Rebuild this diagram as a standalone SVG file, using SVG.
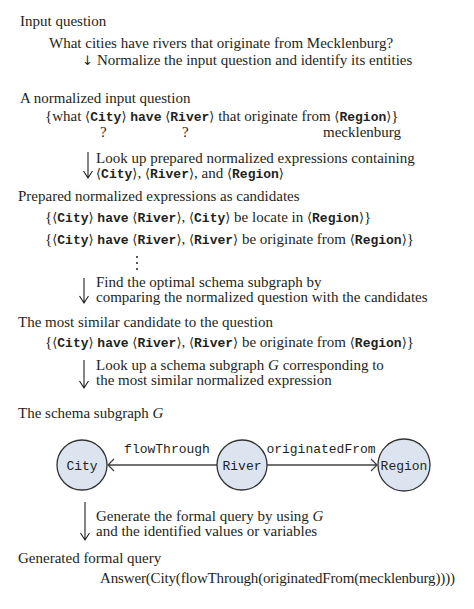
<svg xmlns="http://www.w3.org/2000/svg" width="474" height="609" viewBox="0 0 474 609">
<style>
text { fill:#231f20; }
.t { font-family:"Liberation Serif",serif; font-size:15px; }
.m { font-family:"Liberation Mono",monospace; font-size:13px; font-weight:bold; }
.b { font-family:"DejaVu Serif",serif; font-size:13px; }
.g { font-family:"Liberation Mono",monospace; font-size:13px; }
.node { fill:#dce4f0; stroke:#333; stroke-width:1.3; }
.edge { fill:none; stroke:#444; stroke-width:1.3; }
.arr { fill:none; stroke:#231f20; stroke-width:1.1; }
</style>
<rect width="474" height="609" fill="#fff"/>
<g id="text-blocks">
<text class="t" x="20" y="26">Input question</text>
<text class="t" x="49" y="48">What cities have rivers that originate from Mecklenburg?</text>
<text class="t" x="82" y="65"><tspan font-family="DejaVu Sans" font-size="13">↓</tspan></text>
<text class="t" x="97" y="65">Normalize the input question and identify its entities</text>
<text class="t" x="20" y="103">A normalized input question</text>
<text class="t" x="45" y="121">{what <tspan class="b">⟨</tspan><tspan class="m">City</tspan><tspan class="b">⟩</tspan> <tspan class="m">have</tspan> <tspan class="b">⟨</tspan><tspan class="m">River</tspan><tspan class="b">⟩</tspan> that originate from <tspan class="b">⟨</tspan><tspan class="m">Region</tspan><tspan class="b">⟩</tspan>}</text>
<text class="t" x="100" y="137">?</text>
<text class="t" x="182" y="137">?</text>
<text class="t" x="323" y="137">mecklenburg</text>
<text class="t" x="96" y="163">Look up prepared normalized expressions containing</text>
<text class="t" x="96" y="178"><tspan class="b">⟨</tspan><tspan class="m">City</tspan><tspan class="b">⟩</tspan>, <tspan class="b">⟨</tspan><tspan class="m">River</tspan><tspan class="b">⟩</tspan>, and <tspan class="b">⟨</tspan><tspan class="m">Region</tspan><tspan class="b">⟩</tspan></text>
<text class="t" x="18" y="201">Prepared normalized expressions as candidates</text>
<text class="t" x="45" y="222">{<tspan class="b">⟨</tspan><tspan class="m">City</tspan><tspan class="b">⟩</tspan> <tspan class="m">have</tspan> <tspan class="b">⟨</tspan><tspan class="m">River</tspan><tspan class="b">⟩</tspan>, <tspan class="b">⟨</tspan><tspan class="m">City</tspan><tspan class="b">⟩</tspan> be locate in <tspan class="b">⟨</tspan><tspan class="m">Region</tspan><tspan class="b">⟩</tspan>}</text>
<text class="t" x="45" y="244">{<tspan class="b">⟨</tspan><tspan class="m">City</tspan><tspan class="b">⟩</tspan> <tspan class="m">have</tspan> <tspan class="b">⟨</tspan><tspan class="m">River</tspan><tspan class="b">⟩</tspan>, <tspan class="b">⟨</tspan><tspan class="m">River</tspan><tspan class="b">⟩</tspan> be originate from <tspan class="b">⟨</tspan><tspan class="m">Region</tspan><tspan class="b">⟩</tspan>}</text>
<circle cx="137" cy="257" r="1" fill="#231f20"/>
<circle cx="137" cy="263" r="1" fill="#231f20"/>
<circle cx="137" cy="269" r="1" fill="#231f20"/>
<text class="t" x="96" y="287">Find the optimal schema subgraph by</text>
<text class="t" x="96" y="302">comparing the normalized question with the candidates</text>
<text class="t" x="18" y="327">The most similar candidate to the question</text>
<text class="t" x="45" y="347">{<tspan class="b">⟨</tspan><tspan class="m">City</tspan><tspan class="b">⟩</tspan> <tspan class="m">have</tspan> <tspan class="b">⟨</tspan><tspan class="m">River</tspan><tspan class="b">⟩</tspan>, <tspan class="b">⟨</tspan><tspan class="m">River</tspan><tspan class="b">⟩</tspan> be originate from <tspan class="b">⟨</tspan><tspan class="m">Region</tspan><tspan class="b">⟩</tspan>}</text>
<text class="t" x="96" y="370">Look up a schema subgraph <tspan font-style="italic">G</tspan> corresponding to</text>
<text class="t" x="96" y="385">the most similar normalized expression</text>
<text class="t" x="18" y="418">The schema subgraph <tspan font-style="italic">G</tspan></text>
<text class="t" x="96" y="521">Generate the formal query by using <tspan font-style="italic">G</tspan></text>
<text class="t" x="96" y="536">and the identified values or variables</text>
<text class="t" x="18" y="563">Generated formal query</text>
<text class="t" x="100" y="583" textLength="355">Answer(City(flowThrough(originatedFrom(mecklenburg))))</text>
</g>
<g id="flow-arrows">
<path class="arr" d="M88,152 V178 M83.5,171 L88,178 L92.5,171"/>
<path class="arr" d="M84,278 V303 M79.5,296 L84,303 L88.5,296"/>
<path class="arr" d="M84,360 V388 M79.5,381 L84,388 L88.5,381"/>
<path class="arr" d="M85,502 V540 M80.5,533 L85,540 L89.5,533"/>
</g>
<g id="connectors">
<path class="edge" d="M217,465 H108 M114,459 L108,465 L114,471"/>
<path class="edge" d="M267,465 H377 M371,459 L377,465 L371,471"/>
<text class="g" x="167" y="453" text-anchor="middle">flowThrough</text>
<text class="g" x="321" y="453" text-anchor="middle">originatedFrom</text>
</g>
<g id="node-city">
<circle class="node" cx="82" cy="465" r="25"/>
<text class="g" x="82" y="469.5" text-anchor="middle">City</text>
</g>
<g id="node-river">
<circle class="node" cx="242" cy="465" r="25"/>
<text class="g" x="242" y="469.5" text-anchor="middle">River</text>
</g>
<g id="node-region">
<circle class="node" cx="404" cy="465" r="26"/>
<text class="g" x="404" y="469.5" text-anchor="middle">Region</text>
</g>
</svg>
